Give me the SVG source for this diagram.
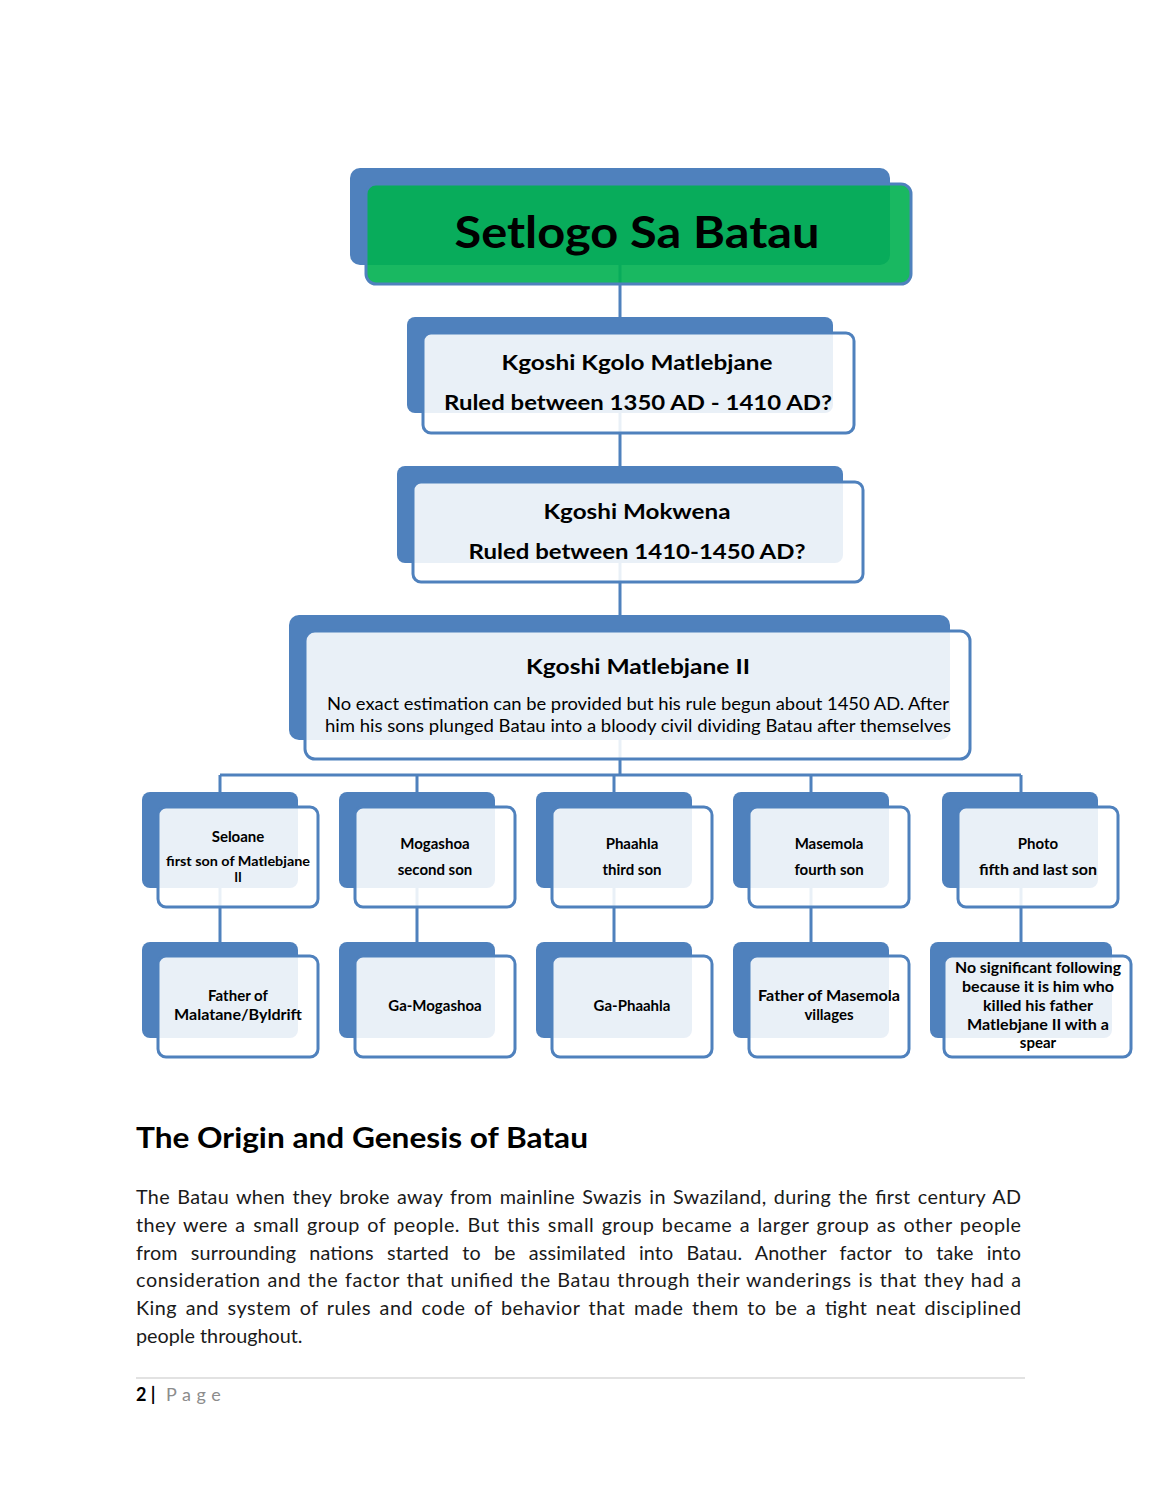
<svg xmlns="http://www.w3.org/2000/svg" width="1159" height="1500" viewBox="0 0 1159 1500">
<style>
.back{fill:#4F81BD}
.front{fill:#FFFFFF;fill-opacity:0.88;stroke:#4F81BD;stroke-width:3}
.green{fill:#00B050;fill-opacity:0.9;stroke:#4F81BD;stroke-width:3}
.conn{stroke:#4F81BD;stroke-width:3;fill:none}
text{font-family:Lato,"Liberation Sans",sans-serif;fill:#000}
.t{font-weight:bold;text-anchor:middle}
.title{font-size:44px}
.n1{font-size:21.5px}
.b{font-size:17px;font-weight:normal;text-anchor:middle}
.s{font-size:15px}
.ss{font-size:13px}
.h{font-size:29px;font-weight:bold}
.p{font-size:19.8px;fill:#1a1a1a}
</style>
<rect width="1159" height="1500" fill="#FFFFFF"/>
<g id="connectors">
<path class="conn" d="M620 240V330M620 390V480M620 540V630M620 700V775M220 775H1021M220 775V800M417 775V800M614 775V800M811 775V800M1021 775V800M220 850V950M417 850V950M614 850V950M811 850V950M1021 850V950"/>
</g>
<g id="node-setlogo">
<rect class="back" x="350" y="168" width="540" height="97" rx="10"/>
<rect class="green" x="366" y="184" width="545" height="100" rx="10"/>
<text class="t title" x="637" y="248" textLength="365" lengthAdjust="spacingAndGlyphs">Setlogo Sa Batau</text>
</g>
<g id="node-matlebjane">
<rect class="back" x="407" y="317" width="426" height="96" rx="8"/>
<rect class="front" x="423" y="333" width="431" height="100" rx="8"/>
<text class="t n1" x="637" y="370" textLength="271" lengthAdjust="spacingAndGlyphs">Kgoshi Kgolo Matlebjane</text>
<text class="t n1" x="638" y="410" textLength="388" lengthAdjust="spacingAndGlyphs">Ruled between 1350 AD - 1410 AD?</text>
</g>
<g id="node-mokwena">
<rect class="back" x="397" y="466" width="446" height="97" rx="8"/>
<rect class="front" x="413" y="482" width="450" height="100" rx="8"/>
<text class="t n1" x="637" y="519" textLength="187" lengthAdjust="spacingAndGlyphs">Kgoshi Mokwena</text>
<text class="t n1" x="637" y="559" textLength="337" lengthAdjust="spacingAndGlyphs">Ruled between 1410-1450 AD?</text>
</g>
<g id="node-matlebjane-ii">
<rect class="back" x="289" y="615" width="661" height="125" rx="10"/>
<rect class="front" x="305" y="631" width="665" height="128" rx="10"/>
<text class="t n1" x="638" y="674" textLength="224" lengthAdjust="spacingAndGlyphs">Kgoshi Matlebjane II</text>
<text class="b" x="638" y="710" textLength="622" lengthAdjust="spacingAndGlyphs">No exact estimation can be provided but his rule begun about 1450 AD. After</text>
<text class="b" x="638" y="732" textLength="626" lengthAdjust="spacingAndGlyphs">him his sons plunged Batau into a bloody civil dividing Batau after themselves</text>
</g>
<g id="node-seloane">
<rect class="back" x="142" y="792" width="156" height="96" rx="8"/>
<rect class="front" x="158" y="807" width="160" height="100" rx="8"/>
<text class="t s" x="238" y="842">Seloane</text>
<text class="t ss" x="238" y="866" textLength="144" lengthAdjust="spacingAndGlyphs">first son of Matlebjane</text>
<text class="t ss" x="238" y="882">II</text>
</g>
<g id="node-mogashoa">
<rect class="back" x="339" y="792" width="156" height="96" rx="8"/>
<rect class="front" x="355" y="807" width="160" height="100" rx="8"/>
<text class="t s" x="435" y="849">Mogashoa</text>
<text class="t s" x="435" y="875">second son</text>
</g>
<g id="node-phaahla">
<rect class="back" x="536" y="792" width="156" height="96" rx="8"/>
<rect class="front" x="552" y="807" width="160" height="100" rx="8"/>
<text class="t s" x="632" y="849">Phaahla</text>
<text class="t s" x="632" y="875">third son</text>
</g>
<g id="node-masemola">
<rect class="back" x="733" y="792" width="156" height="96" rx="8"/>
<rect class="front" x="749" y="807" width="160" height="100" rx="8"/>
<text class="t s" x="829" y="849">Masemola</text>
<text class="t s" x="829" y="875">fourth son</text>
</g>
<g id="node-photo">
<rect class="back" x="942" y="792" width="156" height="96" rx="8"/>
<rect class="front" x="958" y="807" width="160" height="100" rx="8"/>
<text class="t s" x="1038" y="849">Photo</text>
<text class="t s" x="1038" y="875" textLength="118" lengthAdjust="spacingAndGlyphs">fifth and last son</text>
</g>
<g id="node-malatane">
<rect class="back" x="142" y="942" width="156" height="96" rx="8"/>
<rect class="front" x="158" y="956" width="160" height="101" rx="8"/>
<text class="t s" x="238" y="1001">Father of</text>
<text class="t s" x="238" y="1020" textLength="128" lengthAdjust="spacingAndGlyphs">Malatane/Byldrift</text>
</g>
<g id="node-ga-mogashoa">
<rect class="back" x="339" y="942" width="156" height="96" rx="8"/>
<rect class="front" x="355" y="956" width="160" height="101" rx="8"/>
<text class="t s" x="435" y="1011">Ga-Mogashoa</text>
</g>
<g id="node-ga-phaahla">
<rect class="back" x="536" y="942" width="156" height="96" rx="8"/>
<rect class="front" x="552" y="956" width="160" height="101" rx="8"/>
<text class="t s" x="632" y="1011">Ga-Phaahla</text>
</g>
<g id="node-masemola-villages">
<rect class="back" x="733" y="942" width="156" height="96" rx="8"/>
<rect class="front" x="749" y="956" width="160" height="101" rx="8"/>
<text class="t s" x="829" y="1001" textLength="142" lengthAdjust="spacingAndGlyphs">Father of Masemola</text>
<text class="t s" x="829" y="1020">villages</text>
</g>
<g id="node-photo-following">
<rect class="back" x="930" y="942" width="182" height="96" rx="8"/>
<rect class="front" x="944" y="956" width="187" height="101" rx="8"/>
<text class="t s" x="1038" y="973" textLength="166" lengthAdjust="spacingAndGlyphs">No significant following</text>
<text class="t s" x="1038" y="992" textLength="152" lengthAdjust="spacingAndGlyphs">because it is him who</text>
<text class="t s" x="1038" y="1011" textLength="110" lengthAdjust="spacingAndGlyphs">killed his father</text>
<text class="t s" x="1038" y="1030" textLength="142" lengthAdjust="spacingAndGlyphs">Matlebjane II with a</text>
<text class="t s" x="1038" y="1048">spear</text>
</g>
<text class="h" x="136" y="1148" textLength="452" lengthAdjust="spacingAndGlyphs">The Origin and Genesis of Batau</text>
<text class="p" x="136" y="1204" word-spacing="2" textLength="885" lengthAdjust="spacing">The Batau when they broke away from mainline Swazis in Swaziland, during the first century AD</text>
<text class="p" x="136" y="1232" word-spacing="2" textLength="885" lengthAdjust="spacing">they were a small group of people. But this small group became a larger group as other people</text>
<text class="p" x="136" y="1260" word-spacing="8" textLength="885" lengthAdjust="spacing">from surrounding nations started to be assimilated into Batau. Another factor to take into</text>
<text class="p" x="136" y="1287" word-spacing="1" textLength="885" lengthAdjust="spacing">consideration and the factor that unified the Batau through their wanderings is that they had a</text>
<text class="p" x="136" y="1315" word-spacing="3" textLength="885" lengthAdjust="spacing">King and system of rules and code of behavior that made them to be a tight neat disciplined</text>
<text class="p" x="136" y="1343">people throughout.</text>
<line x1="136" y1="1378" x2="1025" y2="1378" stroke="#D9D9D9" stroke-width="1.5"/>
<text x="136" y="1401" style="font-size:18px;font-weight:bold">2 |</text>
<text x="166" y="1401" style="font-size:18px;fill:#8C8C8C;letter-spacing:5.5px">Page</text>
</svg>
